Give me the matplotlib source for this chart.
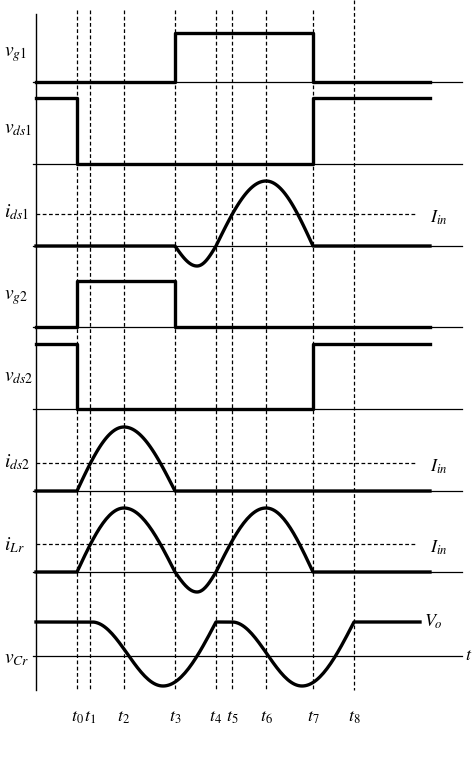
import numpy as np
import matplotlib.pyplot as plt

plt.rcParams['mathtext.fontset'] = 'stix'
plt.rcParams['font.family'] = 'Liberation Serif'

# time instants (pixel x positions of t0..t8)
t_names = ['t_0', 't_1', 't_2', 't_3', 't_4', 't_5', 't_6', 't_7', 't_8']
t_pos = [77, 90, 124, 175, 216, 232, 266, 313, 354]

# channel labels, baselines and levels (pixel y)
labels = ['v_{g1}', 'v_{ds1}', 'i_{ds1}', 'v_{g2}', 'v_{ds2}', 'i_{ds2}', 'i_{Lr}', 'v_{Cr}']
label_y = [55, 130, 212, 298, 378, 462, 545, 660]
base_y = [82, 164, 246, 327, 409, 491, 572, 656]
im_y = {2: 214, 5: 463, 6: 544}

x_start, x_end = 36, 430


def quarter(x0, x1, y0, y1, rising, n=30):
    # quarter-sine piece: rising=True leaves (x0,y0) steeply, flat at (x1,y1)
    s = np.linspace(0, 1, n)
    f = np.sin(np.pi / 2 * s) if rising else 1 - np.cos(np.pi / 2 * s)
    return x0 + (x1 - x0) * s, y0 + (y1 - y0) * f


def half(x0, x1, y0, y1, n=40):
    s = np.linspace(0, 1, n)
    return x0 + (x1 - x0) * s, y0 + (y1 - y0) * (1 - np.cos(np.pi * s)) / 2


def chain(points, first_rising=True):
    xs, ys = [], []
    r = first_rising
    for (a, b), (c, d) in zip(points[:-1], points[1:]):
        x, y = quarter(a, c, b, d, r)
        xs.extend(x); ys.extend(y)
        r = not r
    return np.array(xs), np.array(ys)


def vcr_dip(xa, xm, xb, vo, vmin):
    x1, y1 = half(xa, xm, vo, vmin)
    x2, y2 = quarter(xm, xb, vmin, vo, False)
    return np.r_[x1, x2], np.r_[y1, y2]


fig = plt.figure(figsize=(4.74, 7.58), dpi=100)
ax = fig.add_axes([0, 0, 1, 1])
ax.set_xlim(0, 474)
ax.set_ylim(758, 0)
ax.axis('off')

lw = 2.4
ax.plot([36, 36], [14, 690], color='k', lw=1)
for i, (n, x) in enumerate(zip(t_names, t_pos)):
    ax.plot([x, x], [0 if i == 8 else 10, 690], color='k', lw=0.9, ls=(0, (3, 2)))
    ax.text(x, 718, '$' + n + '$', ha='center', va='center', fontsize=13)

for i, y in enumerate(base_y):
    ax.plot([33, 462], [y, y], color='k', lw=0.9)
for i, y in im_y.items():
    ax.plot([36, 415], [y, y], color='k', lw=0.9, ls=(0, (3, 2)))
    ax.text(430, y + 4, '$I_{in}$', ha='left', va='center', fontsize=13)
ax.text(465, 656, '$t$', ha='left', va='center', fontsize=13)
ax.text(424, 622, '$V_o$', ha='left', va='center', fontsize=13)

for lab, y in zip(labels, label_y):
    ax.text(4, y, '$' + lab + '$', ha='left', va='center', fontsize=14)

t0, t1, t2, t3, t4, t5, t6, t7, t8 = t_pos
ax.plot([x_start, t3, t3, t7, t7, x_end], [82, 82, 33, 33, 82, 82], color='k', lw=lw)
ax.plot([x_start, t0, t0, t7, t7, x_end], [98, 98, 164, 164, 98, 98], color='k', lw=lw)
x, y = chain([(t3, 246), (197, 266), (t4, 246), (t6, 181), (t7, 246)])
ax.plot(np.r_[x_start, x, x_end], np.r_[246, y, 246], color='k', lw=lw)
ax.plot([x_start, t0, t0, t3, t3, x_end], [327, 327, 281, 281, 327, 327], color='k', lw=lw)
ax.plot([x_start, t0, t0, t7, t7, x_end], [344, 344, 409, 409, 344, 344], color='k', lw=lw)
x, y = chain([(t0, 491), (t2, 427), (t3, 491)])
ax.plot(np.r_[x_start, x, x_end], np.r_[491, y, 491], color='k', lw=lw)
x, y = chain([(t0, 572), (t2, 508), (t3, 572), (197, 592), (t4, 572), (t6, 508), (t7, 572)])
ax.plot(np.r_[x_start, x, x_end], np.r_[572, y, 572], color='k', lw=lw)
x, y = vcr_dip(92, 163, t4, 622, 686)
x2, y2 = vcr_dip(232, 302, t8, 622, 686)
ax.plot(np.r_[x_start, x, x2, 420], np.r_[622, y, y2, 622], color='k', lw=lw)

fig.savefig('out.png', dpi=100)
